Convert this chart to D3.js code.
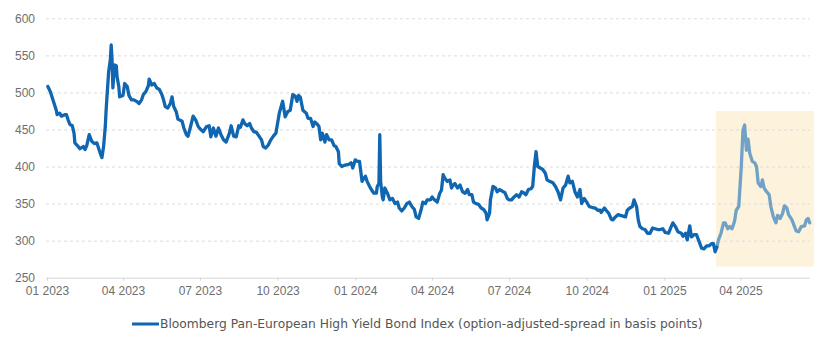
<!DOCTYPE html>
<html><head><meta charset="utf-8">
<script src="https://cdn.jsdelivr.net/npm/d3@7"></script>
<style>html,body{margin:0;padding:0;background:#fff;}svg{display:block;}</style>
</head><body><div id="chart"></div>
<script>
const yTicks = [250, 300, 350, 400, 450, 500, 550, 600];
const xTickDates = ["2023-01-01","2023-04-01","2023-07-01","2023-10-01","2024-01-01","2024-04-01","2024-07-01","2024-10-01","2025-01-01","2025-04-01"];
const legendLabel = "Bloomberg Pan-European High Yield Bond Index (option-adjusted-spread in basis points)";
const highlightRange = ["2025-03-03", "2025-06-27"];
const highlightValues = [265, 475];

const mainDates = ["2023-01-02","2023-01-05","2023-01-08","2023-01-12","2023-01-13","2023-01-16","2023-01-18","2023-01-22","2023-01-24","2023-01-26","2023-01-28","2023-01-31","2023-02-02","2023-02-03","2023-02-07","2023-02-09","2023-02-13","2023-02-15","2023-02-17","2023-02-20","2023-02-23","2023-02-26","2023-03-01","2023-03-03","2023-03-05","2023-03-07","2023-03-09","2023-03-11","2023-03-12","2023-03-13","2023-03-15","2023-03-17","2023-03-18","2023-03-19","2023-03-20","2023-03-22","2023-03-24","2023-03-25","2023-03-27","2023-03-28","2023-04-01","2023-04-03","2023-04-06","2023-04-08","2023-04-11","2023-04-14","2023-04-17","2023-04-20","2023-04-23","2023-04-25","2023-04-28","2023-05-01","2023-05-02","2023-05-05","2023-05-08","2023-05-11","2023-05-14","2023-05-17","2023-05-19","2023-05-21","2023-05-24","2023-05-27","2023-05-29","2023-05-31","2023-06-03","2023-06-05","2023-06-10","2023-06-12","2023-06-15","2023-06-17","2023-06-20","2023-06-23","2023-06-26","2023-06-29","2023-07-02","2023-07-05","2023-07-09","2023-07-12","2023-07-14","2023-07-17","2023-07-20","2023-07-23","2023-07-26","2023-07-29","2023-08-01","2023-08-05","2023-08-07","2023-08-10","2023-08-13","2023-08-16","2023-08-18","2023-08-21","2023-08-23","2023-08-26","2023-08-29","2023-08-31","2023-09-03","2023-09-06","2023-09-09","2023-09-12","2023-09-14","2023-09-17","2023-09-20","2023-09-23","2023-09-26","2023-09-29","2023-10-03","2023-10-07","2023-10-10","2023-10-13","2023-10-16","2023-10-19","2023-10-22","2023-10-24","2023-10-26","2023-10-28","2023-10-31","2023-11-04","2023-11-06","2023-11-09","2023-11-12","2023-11-14","2023-11-17","2023-11-19","2023-11-21","2023-11-23","2023-11-26","2023-11-28","2023-12-01","2023-12-04","2023-12-07","2023-12-09","2023-12-12","2023-12-13","2023-12-16","2023-12-20","2023-12-24","2023-12-27","2023-12-29","2024-01-01","2024-01-03","2024-01-06","2024-01-09","2024-01-11","2024-01-13","2024-01-15","2024-01-18","2024-01-20","2024-01-23","2024-01-26","2024-01-27","2024-01-29","2024-01-30","2024-01-31","2024-02-02","2024-02-03","2024-02-05","2024-02-08","2024-02-11","2024-02-14","2024-02-17","2024-02-20","2024-02-22","2024-02-25","2024-02-28","2024-03-02","2024-03-05","2024-03-08","2024-03-11","2024-03-13","2024-03-16","2024-03-19","2024-03-21","2024-03-24","2024-03-26","2024-03-30","2024-04-01","2024-04-03","2024-04-07","2024-04-10","2024-04-12","2024-04-14","2024-04-16","2024-04-19","2024-04-22","2024-04-24","2024-04-26","2024-04-28","2024-05-01","2024-05-04","2024-05-07","2024-05-10","2024-05-13","2024-05-15","2024-05-18","2024-05-20","2024-05-23","2024-05-26","2024-05-29","2024-06-01","2024-06-04","2024-06-05","2024-06-08","2024-06-09","2024-06-12","2024-06-15","2024-06-17","2024-06-20","2024-06-24","2024-06-26","2024-06-29","2024-07-01","2024-07-04","2024-07-07","2024-07-10","2024-07-13","2024-07-16","2024-07-19","2024-07-21","2024-07-24","2024-07-27","2024-07-29","2024-07-31","2024-08-02","2024-08-04","2024-08-07","2024-08-10","2024-08-13","2024-08-15","2024-08-18","2024-08-22","2024-08-25","2024-08-28","2024-08-31","2024-09-03","2024-09-06","2024-09-09","2024-09-11","2024-09-14","2024-09-17","2024-09-20","2024-09-23","2024-09-25","2024-09-28","2024-10-01","2024-10-04","2024-10-07","2024-10-11","2024-10-14","2024-10-17","2024-10-18","2024-10-22","2024-10-24","2024-10-27","2024-10-30","2024-11-01","2024-11-04","2024-11-07","2024-11-10","2024-11-13","2024-11-16","2024-11-18","2024-11-21","2024-11-24","2024-11-26","2024-11-29","2024-12-01","2024-12-03","2024-12-06","2024-12-09","2024-12-12","2024-12-15","2024-12-18","2024-12-21","2024-12-24","2024-12-27","2024-12-30","2025-01-02","2025-01-06","2025-01-09","2025-01-11","2025-01-14","2025-01-17","2025-01-21","2025-01-23","2025-01-26","2025-01-28","2025-01-31","2025-02-02","2025-02-05","2025-02-08","2025-02-11","2025-02-14","2025-02-17","2025-02-20","2025-02-23","2025-02-26","2025-02-28","2025-03-02","2025-03-04"];
const mainValues = [508,501,490,476,470,472,468,470,470,463,457,455,445,432,427,424,427,423,428,443,434,431,432,425,418,412,427,454,476,494,528,544,564,544,506,537,536,521,508,494,496,512,508,496,490,490,488,485,490,497,501,509,518,510,512,506,504,497,490,481,479,485,494,481,474,464,461,452,443,441,454,468,463,454,450,447,454,455,440,452,441,452,443,436,433,445,455,441,440,455,453,463,458,455,458,452,447,446,441,436,427,425,429,436,441,445,472,488,467,474,476,497,495,488,496,493,476,472,465,465,454,460,457,454,436,445,433,443,436,436,428,427,420,404,400,402,403,405,398,409,407,407,380,384,387,380,373,369,364,364,373,377,443,380,359,355,371,364,355,357,350,352,344,340,344,350,352,346,342,332,330,342,352,350,355,355,359,356,352,364,368,389,384,380,382,371,375,377,371,375,366,364,369,362,362,352,350,349,344,342,337,328,337,355,373,371,366,369,366,365,357,355,355,359,362,359,366,364,362,369,370,373,400,420,400,398,396,391,382,380,378,373,366,355,371,375,387,378,380,366,359,369,350,357,352,346,345,344,341,341,338,344,341,337,329,328,332,335,334,333,332,341,344,346,355,346,328,319,316,315,310,310,317,316,315,315,316,311,310,319,324,319,312,310,306,310,301,320,305,308,308,299,290,289,293,293,296,296,285,291];

const hiDates = ["2025-03-04","2025-03-06","2025-03-09","2025-03-12","2025-03-14","2025-03-17","2025-03-19","2025-03-22","2025-03-25","2025-03-27","2025-03-30","2025-04-02","2025-04-04","2025-04-06","2025-04-08","2025-04-10","2025-04-12","2025-04-15","2025-04-18","2025-04-20","2025-04-22","2025-04-25","2025-04-27","2025-04-29","2025-05-02","2025-05-05","2025-05-07","2025-05-10","2025-05-13","2025-05-15","2025-05-18","2025-05-21","2025-05-23","2025-05-26","2025-05-28","2025-06-01","2025-06-04","2025-06-06","2025-06-09","2025-06-12","2025-06-16","2025-06-18","2025-06-20","2025-06-22"];
const hiValues = [291,301,310,324,324,316,319,316,326,341,346,400,449,456,422,437,418,407,405,400,378,373,382,371,366,362,346,332,324,334,330,337,347,344,335,328,319,313,312,319,320,328,330,324];

const W = 828, H = 342;
const parse = d3.utcParse("%Y-%m-%d");
const fmt = d3.utcFormat("%m %Y");

const x = d3.scaleUtc().domain([parse("2023-01-01"), parse("2025-06-22")]).range([47, 809.7]);
const y = d3.scaleLinear().domain([250, 600]).range([277.7, 18.3]);

const svg = d3.select("#chart").append("svg").attr("width", W).attr("height", H)
  .style("font-family", "'DejaVu Sans', Verdana, sans-serif");

// highlight box
svg.append("rect")
  .attr("x", x(parse(highlightRange[0])))
  .attr("width", x(parse(highlightRange[1])) - x(parse(highlightRange[0])))
  .attr("y", y(highlightValues[1]))
  .attr("height", y(highlightValues[0]) - y(highlightValues[1]))
  .attr("fill", "#fdf3dd");

// gridlines + y labels
const yAxis = d3.axisLeft(y).tickValues(yTicks).tickSize(-(809.7 - 46)).tickPadding(11).tickFormat(d3.format("d"));
const gy = svg.append("g").attr("transform", "translate(46,0)").call(yAxis);
gy.select(".domain").remove();
gy.selectAll(".tick line").attr("stroke", "#dcdcdc").attr("stroke-dasharray", "3,3")
  .filter(d => d === 250).attr("stroke-dasharray", null).attr("stroke", "#d6d6d6");
gy.selectAll(".tick text").attr("fill", "#6e6e6e").style("font-size", "12px").attr("x", -11);

// x axis
const xAxis = d3.axisBottom(x).tickValues(xTickDates.map(parse)).tickFormat(fmt).tickSize(3).tickPadding(6);
const gx = svg.append("g").attr("transform", `translate(0,${y(250)})`).call(xAxis);
gx.select(".domain").remove();
gx.selectAll(".tick line").attr("stroke", "#d6d6d6");
gx.selectAll(".tick text").attr("fill", "#6e6e6e").style("font-size", "12px");

const line = d3.line().x(d => x(d[0])).y(d => y(d[1])).curve(d3.curveLinear);
const mainData = mainDates.map((d, i) => [parse(d), mainValues[i]]);
const hiData = hiDates.map((d, i) => [parse(d), hiValues[i]]);

svg.append("path").datum(hiData).attr("d", line).attr("fill", "none")
  .attr("stroke", "#6fa2c6").attr("stroke-width", 3.3).attr("stroke-linejoin", "round").attr("stroke-linecap", "round");
svg.append("path").datum(mainData).attr("d", line).attr("fill", "none")
  .attr("stroke", "#1066b0").attr("stroke-width", 3.3).attr("stroke-linejoin", "round").attr("stroke-linecap", "round");

// legend
const lg = svg.append("g");
lg.append("line").attr("x1", 132).attr("x2", 159).attr("y1", 324).attr("y2", 324)
  .attr("stroke", "#1066b0").attr("stroke-width", 3);
const lt = lg.append("text").attr("x", 160).attr("y", 324).attr("dy", "0.35em")
  .attr("fill", "#555").style("font-size", "12px").text(legendLabel);
const tl = lt.node().getComputedTextLength();
lt.style("font-size", (12 * 543 / tl).toFixed(2) + "px");
</script></body></html>
